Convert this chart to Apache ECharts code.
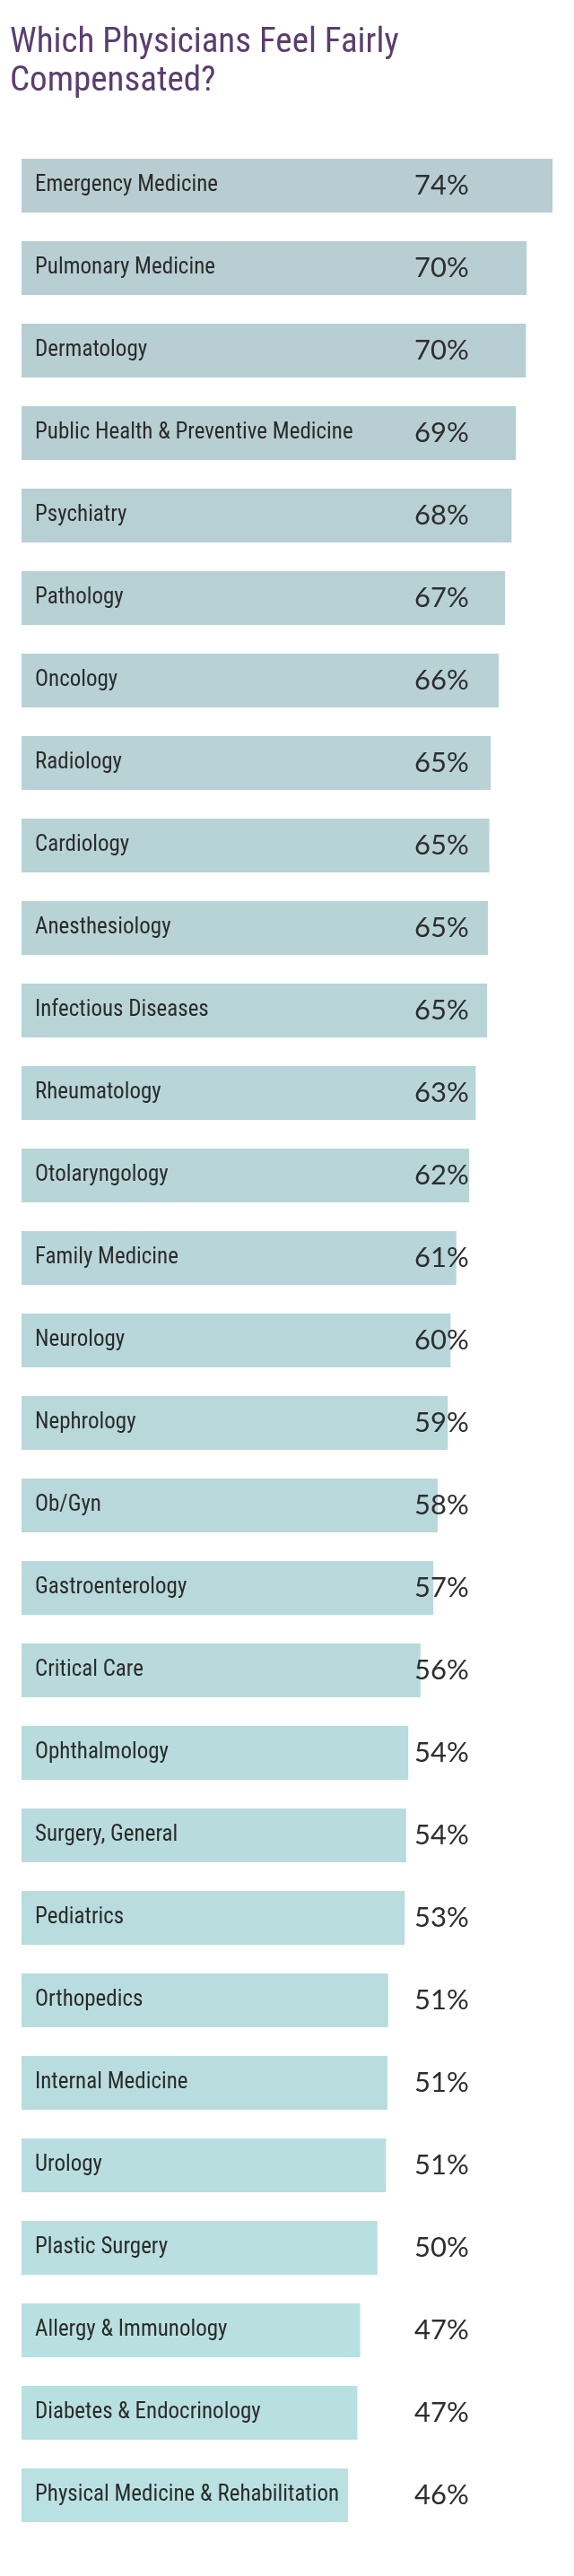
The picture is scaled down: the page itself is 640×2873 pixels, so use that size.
<!DOCTYPE html>
<html>
<head>
<meta charset="utf-8">
<script src="https://cdn.jsdelivr.net/npm/echarts@6/dist/echarts.min.js"></script>
<style>
html,body{margin:0;padding:0;background:#fff;}
#chart{width:640px;height:2873px;}
</style>
</head>
<body>
<div id="chart"></div>
<script>
const titleText = 'Which Physicians Feel Fairly\nCompensated?';
const categories = [
  'Emergency Medicine','Pulmonary Medicine','Dermatology','Public Health & Preventive Medicine',
  'Psychiatry','Pathology','Oncology','Radiology','Cardiology','Anesthesiology',
  'Infectious Diseases','Rheumatology','Otolaryngology','Family Medicine','Neurology',
  'Nephrology','Ob/Gyn','Gastroenterology','Critical Care','Ophthalmology',
  'Surgery, General','Pediatrics','Orthopedics','Internal Medicine','Urology',
  'Plastic Surgery','Allergy & Immunology','Diabetes & Endocrinology','Physical Medicine & Rehabilitation'
];
const values = [74.0, 70.4, 70.3, 68.9, 68.3, 67.4, 66.5, 65.4, 65.2, 65.0,
  64.9, 63.3, 62.4, 60.6, 59.8, 59.4, 58.0, 57.4, 55.6, 53.9,
  53.6, 53.4, 51.1, 51.0, 50.8, 49.6, 47.2, 46.8, 45.5];
const valueLabels = ['74%','70%','70%','69%','68%','67%','66%','65%','65%','65%',
  '65%','63%','62%','61%','60%','59%','58%','57%','56%','54%',
  '54%','53%','51%','51%','51%','50%','47%','47%','46%'];

const condensed = '"Roboto Condensed", "Liberation Sans Narrow", "DejaVu Sans Condensed", Roboto, sans-serif';
const topColor = [183, 205, 209];
const bottomColor = [185, 225, 226];
function barColor(i) {
  const t = i / (categories.length - 1);
  const c = topColor.map((a, k) => Math.round(a + (bottomColor[k] - a) * t));
  return 'rgb(' + c.join(',') + ')';
}

const chart = echarts.init(document.getElementById('chart'), null, {renderer: 'canvas'});
chart.setOption({
  backgroundColor: '#ffffff',
  animation: false,
  title: {
    text: titleText,
    left: 6,
    top: 22,
    textStyle: {
      fontFamily: condensed,
      fontSize: 39,
      fontWeight: 'normal',
      color: '#5b3d6f',
      lineHeight: 43
    }
  },
  grid: {left: 24, right: 8, top: 161, bottom: 44, containLabel: false},
  xAxis: {
    type: 'value', min: 0, max: 76, show: false
  },
  yAxis: {
    type: 'category',
    data: categories,
    inverse: true,
    axisLine: {show: false},
    axisTick: {show: false},
    splitLine: {show: false},
    axisLabel: {
      inside: true,
      margin: 15,
      align: 'left',
      verticalAlign: 'middle',
      padding: [0, 0, 5, 0],
      fontFamily: condensed,
      fontSize: 25,
      color: '#2b2b2b'
    },
    z: 5
  },
  series: [{
    type: 'bar',
    data: values,
    barWidth: 60,
    itemStyle: {
      color: function (p) { return barColor(p.dataIndex); }
    },
    label: {
      show: true,
      position: [438, '50%'],
      align: 'left',
      verticalAlign: 'middle',
      fontFamily: 'Lato, "Open Sans", sans-serif',
      fontWeight: 'normal',
      fontSize: 31,
      color: '#2e2e2e',
      formatter: function (p) { return valueLabels[p.dataIndex]; }
    }
  }]
});
</script>
</body>
</html>
